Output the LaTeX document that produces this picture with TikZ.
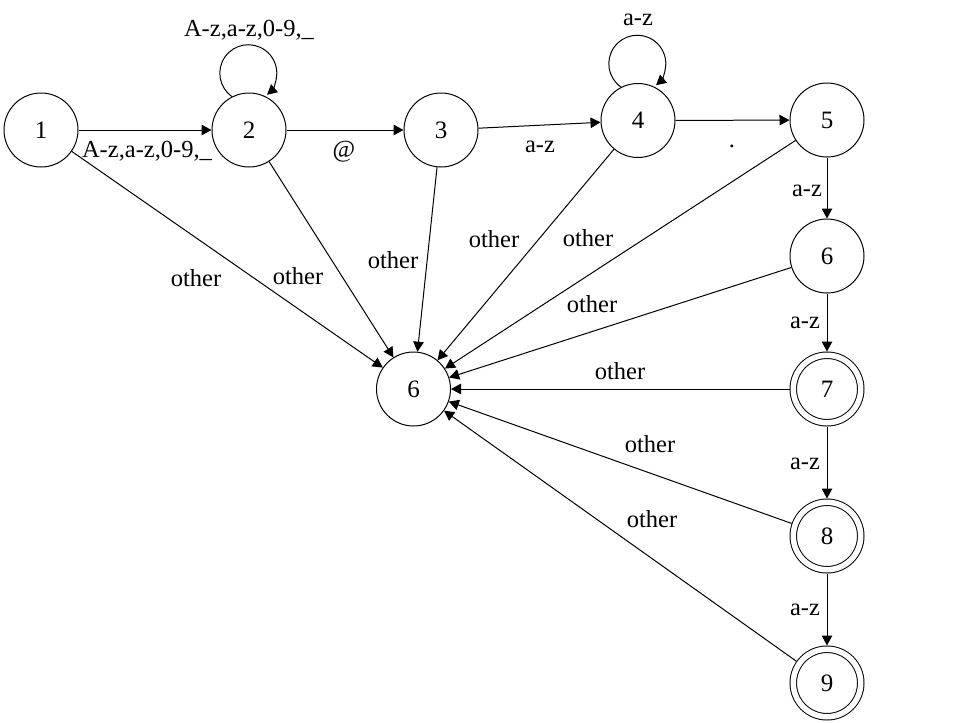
\documentclass[tikz,border=0pt]{standalone}
\usepackage{fontspec}
\setmainfont{Liberation Serif}
\usetikzlibrary{arrows.meta}
\begin{document}
\begin{tikzpicture}[x=1pt,y=1pt,
  st/.style={circle,draw,line width=1pt,minimum size=74pt,inner sep=0pt,font=\fontsize{25}{29}\selectfont},
  acc/.style={circle,draw,line width=1pt,double,double distance=5.5pt,minimum size=67.5pt,inner sep=0pt,outer sep=3.75pt,font=\fontsize{25}{29}\selectfont},
  lbl/.style={inner sep=0pt,font=\fontsize{24.5}{28}\selectfont},
  tr/.style={line width=1pt,-{Triangle[length=10pt,width=10.5pt]}}
]
\fill[white] (0,0) rectangle (962,-723);
\useasboundingbox (0,0) rectangle (962,-723);

% states
\node[st] (n1) at (41,-130) {1};
\node[st] (n2) at (249,-130) {2};
\node[st] (n3) at (441,-130) {3};
\node[st] (n4) at (638,-120.5) {4};
\node[st] (n5) at (827,-120) {5};
\node[st] (n6r) at (827,-256) {6};
\node[acc] (n7) at (827,-389) {7};
\node[acc] (n8) at (827,-536) {8};
\node[acc] (n9) at (827,-683) {9};
\node[st] (n6c) at (413.5,-389) {6};

% main transitions
\draw[tr] (n1) -- (n2);
\draw[tr] (n2) -- (n3);
\draw[tr] (n3) -- (n4);
\draw[tr] (n4) -- (n5);
\draw[tr] (n5) -- (n6r);
\draw[tr] (n6r) -- (n7);
\draw[tr] (n7) -- (n8);
\draw[tr] (n8) -- (n9);

% loops
\draw[tr] (n2.117) arc[start angle=235,end angle=-49,radius=28.5];
\draw[tr] (n4.117) arc[start angle=235,end angle=-49,radius=28.5];

% other transitions
\foreach \s in {n1,n2,n3,n4,n5,n6r,n7,n8,n9}
  \draw[tr] (\s) -- (n6c);

% labels
\node[lbl] (l2loop) at (249,-30) {A-z,a-z,0-9,\_};
\node[lbl] (l12) at (147,-151) {A-z,a-z,0-9,\_};
\node[lbl] (l23) at (344,-152) {@};
\node[lbl] (l34) at (540,-147) {a-z};
\node[lbl] (l4loop) at (638,-20) {a-z};
\node[lbl,anchor=base] (l45) at (732,-147.5) {.};
\node[lbl] (l56) at (807,-191) {a-z};
\node[lbl] (l67) at (805,-323) {a-z};
\node[lbl] (l78) at (805,-464) {a-z};
\node[lbl] (l89) at (805,-610) {a-z};

\node[lbl] (o1) at (196,-278) {other};
\node[lbl] (o2) at (298,-276) {other};
\node[lbl] (o3) at (393,-260) {other};
\node[lbl] (o4) at (494,-239) {other};
\node[lbl] (o5) at (588,-238) {other};
\node[lbl] (o6) at (592,-304) {other};
\node[lbl] (o7) at (620,-371) {other};
\node[lbl] (o8) at (650,-444) {other};
\node[lbl] (o9) at (652,-519) {other};
\end{tikzpicture}
\end{document}
